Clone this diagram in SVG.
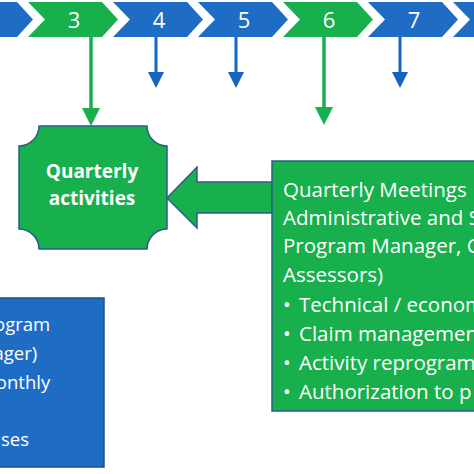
<svg xmlns="http://www.w3.org/2000/svg" width="474" height="474" viewBox="0 0 474 474">
<defs>
<style>
.chev-b{fill:#1e6cc4}
.chev-g{fill:#17b04c}
.num{font-family:"Open Sans","Liberation Sans",sans-serif;font-size:22px;fill:#fff;text-anchor:middle}
.gbox{fill:#17b04c;stroke:#2a5d88;stroke-width:1.5}
.bbox{fill:#1e6cc4;stroke:#1f4f86;stroke-width:1.5}
.txt{font-family:"Open Sans","Liberation Sans",sans-serif;font-size:20.5px;fill:#fff}
.ltxt{font-family:"Open Sans","Liberation Sans",sans-serif;font-size:18.5px;fill:#fff;text-anchor:end}
.btxt{font-family:"Open Sans","Liberation Sans",sans-serif;font-size:19px;font-weight:bold;fill:#fff;text-anchor:middle}
.gline{stroke:#17b04c;stroke-width:3.5;fill:none}
.bline{stroke:#1565c0;stroke-width:3;fill:none}
.ghead{fill:#17b04c}
.bhead{fill:#1565c0}
</style>
</defs>

<g id="chevron-2"><polygon class="chev-b" points="-57,2 17,2 33,19.5 17,37 -57,37 -40,19.5"/></g>
<g id="chevron-3"><polygon class="chev-g" points="28,2 102,2 118,19.5 102,37 28,37 45,19.5"/><text class="num" x="74" y="27.5">3</text></g>
<g id="chevron-4"><polygon class="chev-b" points="113,2 187,2 203,19.5 187,37 113,37 130,19.5"/><text class="num" x="159" y="27.5">4</text></g>
<g id="chevron-5"><polygon class="chev-b" points="198,2 272,2 288,19.5 272,37 198,37 215,19.5"/><text class="num" x="244" y="27.5">5</text></g>
<g id="chevron-6"><polygon class="chev-g" points="283,2 357,2 373,19.5 357,37 283,37 300,19.5"/><text class="num" x="329" y="27.5">6</text></g>
<g id="chevron-7"><polygon class="chev-b" points="368,2 442,2 458,19.5 442,37 368,37 385,19.5"/><text class="num" x="414" y="27.5">7</text></g>
<g id="chevron-8"><polygon class="chev-b" points="453,2 527,2 543,19.5 527,37 453,37 470,19.5"/></g>

<g id="connectors">
<line class="gline" x1="91" y1="37" x2="91" y2="110"/>
<polygon class="ghead" points="82,108 100,108 91,126"/>
<line class="gline" x1="324" y1="37" x2="324" y2="109"/>
<polygon class="ghead" points="315,107 333,107 324,125"/>
<line class="bline" x1="156" y1="37" x2="156" y2="74"/>
<polygon class="bhead" points="148,72 164,72 156,88"/>
<line class="bline" x1="236" y1="37" x2="236" y2="74"/>
<polygon class="bhead" points="228,72 244,72 236,88"/>
<line class="bline" x1="400" y1="37" x2="400" y2="74"/>
<polygon class="bhead" points="392,72 408,72 400,88"/>
<polygon class="gbox" points="167,198 197,167 197,182 272,182 272,213 197,213 197,228"/>
</g>

<g id="node-quarterly">
<path class="gbox" d="M39,126 H147 A20,20 0 0 0 167,146 V229 A20,20 0 0 0 147,249 H39 A20,20 0 0 0 19,229 V146 A20,20 0 0 0 39,126 Z"/>
<text class="btxt" x="92" y="178">Quarterly</text>
<text class="btxt" x="92" y="205">activities</text>
</g>

<g id="node-meetings">
<rect class="gbox" x="272" y="161" width="215" height="250"/>
<text class="txt">
<tspan x="283" y="197">Quarterly Meetings</tspan>
<tspan x="283" y="225">Administrative and S</tspan>
<tspan x="283" y="253">Program Manager, C</tspan>
<tspan x="283" y="282">Assessors)</tspan>
<tspan x="283" y="312">•</tspan><tspan x="299" y="312">Technical / econom</tspan>
<tspan x="283" y="341">•</tspan><tspan x="299" y="341">Claim managemen</tspan>
<tspan x="283" y="370">•</tspan><tspan x="299" y="370">Activity reprogram</tspan>
<tspan x="283" y="399">•</tspan><tspan x="299" y="399">Authorization to p</tspan>
</text>
</g>

<g id="node-monthly">
<rect class="bbox" x="-5" y="298" width="109" height="169"/>
<text class="ltxt">
<tspan x="55" y="331">ogram</tspan>
<tspan x="42" y="360">ager)</tspan>
<tspan x="55" y="389">onthly</tspan>
<tspan x="29" y="446">ses</tspan>
</text>
</g>
</svg>
